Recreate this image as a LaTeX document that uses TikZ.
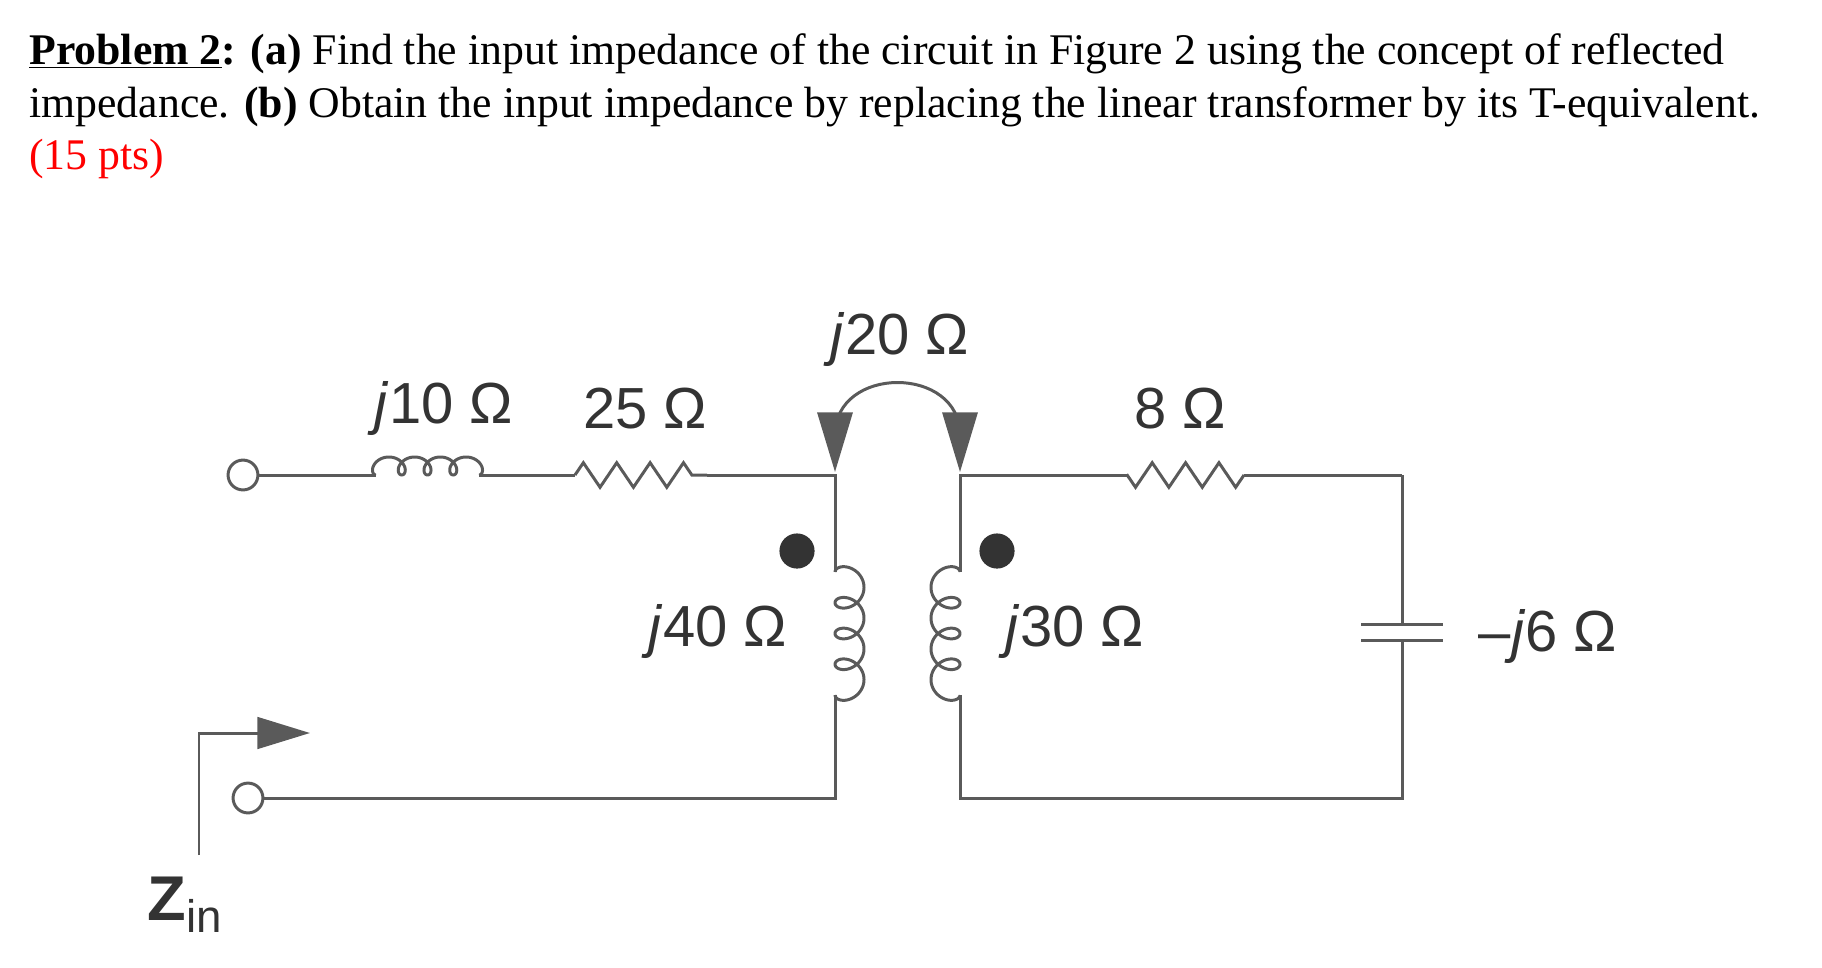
\documentclass[tikz,border=0pt]{standalone}
\usepackage{fontspec}
\setmainfont{Liberation Serif}
\newfontfamily\cirf{Liberation Sans}
\usetikzlibrary{decorations.pathmorphing,arrows.meta}
\definecolor{wire}{HTML}{5A5A5A}
\definecolor{lab}{HTML}{333333}
\begin{document}
\begin{tikzpicture}[x=0.02cm,y=-0.02cm,
  w/.style={draw=wire,line width=1.7pt},
  lbl/.style={text=lab,font=\cirf\fontsize{33}{35}\selectfont,inner sep=0pt},
  title/.style={anchor=base west,inner sep=0pt,font=\fontsize{24.9}{30}\selectfont},
  res/.style={decorate,decoration={zigzag,segment length=19,amplitude=7}},
  term/.style={circle,draw=wire,line width=1.7pt,fill=white,minimum size=17,inner sep=0pt},
  dot/.style={circle,fill=lab,minimum size=20,inner sep=0pt}]
\useasboundingbox (0,0) rectangle (1822,967);
\node[title] (t1) at (29,64) {\textbf{\underline{Problem 2}: (a)} Find the input impedance of the circuit in Figure 2 using the concept of reflected};
\node[title] (t2) at (29,117) {impedance. \textbf{(b)} Obtain the input impedance by replacing the linear transformer by its T-equivalent.};
\node[title,text=red] (t3) at (29,169) {(15 pts)};
% nodes
\node[term] (a) at (243,475) {};
\node[term] (b) at (248,798) {};
\coordinate (l1a) at (376,475); \coordinate (l1b) at (479,475);
\coordinate (r1a) at (575,475); \coordinate (r1b) at (707,475);
\coordinate (p1) at (835,475); \coordinate (p2) at (835,572); \coordinate (p3) at (835,695); \coordinate (p4) at (835,798);
\coordinate (s1) at (960,475); \coordinate (s2) at (960,572); \coordinate (s3) at (960,695); \coordinate (s4) at (960,798);
\coordinate (r2a) at (1127,475); \coordinate (r2b) at (1244,475);
\coordinate (c1) at (1402,475); \coordinate (c2) at (1402,624); \coordinate (c3) at (1402,640); \coordinate (c4) at (1402,798);
\draw[w] (a) -- (l1a);
\draw[w] plot[domain=0:1440,samples=240,variable=\t,smooth] ({376+\t/360*25.75-9*sin(\t)},{475-9*(1-cos(\t))});
\draw[w] (l1b) -- (r1a);
\draw[w,res] (r1a) -- (r1b);
\draw[w] (r1b) -- (p1) -- (p2);
\draw[w] plot[domain=0:1440,samples=240,variable=\t,smooth] ({835+14.5*(1-cos(\t))},{572+\t/360*30.75-12*sin(\t)});
\draw[w] (p3) -- (p4) -- (b);
\draw[w] (c1) -- (r2b);
\draw[w,res] (r2b) -- (r2a);
\draw[w] (r2a) -- (s1) -- (s2);
\draw[w] plot[domain=0:1440,samples=240,variable=\t,smooth] ({960-14.5*(1-cos(\t))},{572+\t/360*30.75-12*sin(\t)});
\draw[w] (s3) -- (s4) -- (c4) -- (c3);
\draw[w] (c1) -- (c2);
\draw[w] (1361,624) -- (1443,624);
\draw[w] (1361,640) -- (1443,640);
\node[dot] (d1) at (797,551) {};
\node[dot] (d2) at (997,551) {};
% mutual arc
\coordinate (m1) at (835,472); \coordinate (m2) at (960,472);
\draw[w,{Triangle[length=34,width=20]}-{Triangle[length=34,width=20]}] (m1) -- (835,435) .. controls (835,365) and (960,365) .. (960,435) -- (m2);
% Zin arrow
\coordinate (z1) at (199,855); \coordinate (z2) at (199,733); \coordinate (z3) at (310,733);
\draw[w,-{Triangle[length=30,width=18]}] (z1) -- (z2) -- (z3);
% labels
\node[lbl] (L1) at (444,409) {\textit{j}10 Ω};
\node[lbl] (L2) at (645,409) {25 Ω};
\node[lbl] (L3) at (900,340) {\textit{j}20 Ω};
\node[lbl] (L4) at (1180,409) {8 Ω};
\node[lbl] (L5) at (718,631) {\textit{j}40 Ω};
\node[lbl] (L6) at (1075,631) {\textit{j}30 Ω};
\node[lbl] (L7) at (1548,637) {–\textit{j}6 Ω};
\node[lbl,font=\cirf\bfseries\fontsize{36}{38}\selectfont,anchor=base] (Z) at (185,920) {Z\raisebox{-7pt}{\fontsize{26}{28}\selectfont\mdseries in}};
\end{tikzpicture}
\end{document}
